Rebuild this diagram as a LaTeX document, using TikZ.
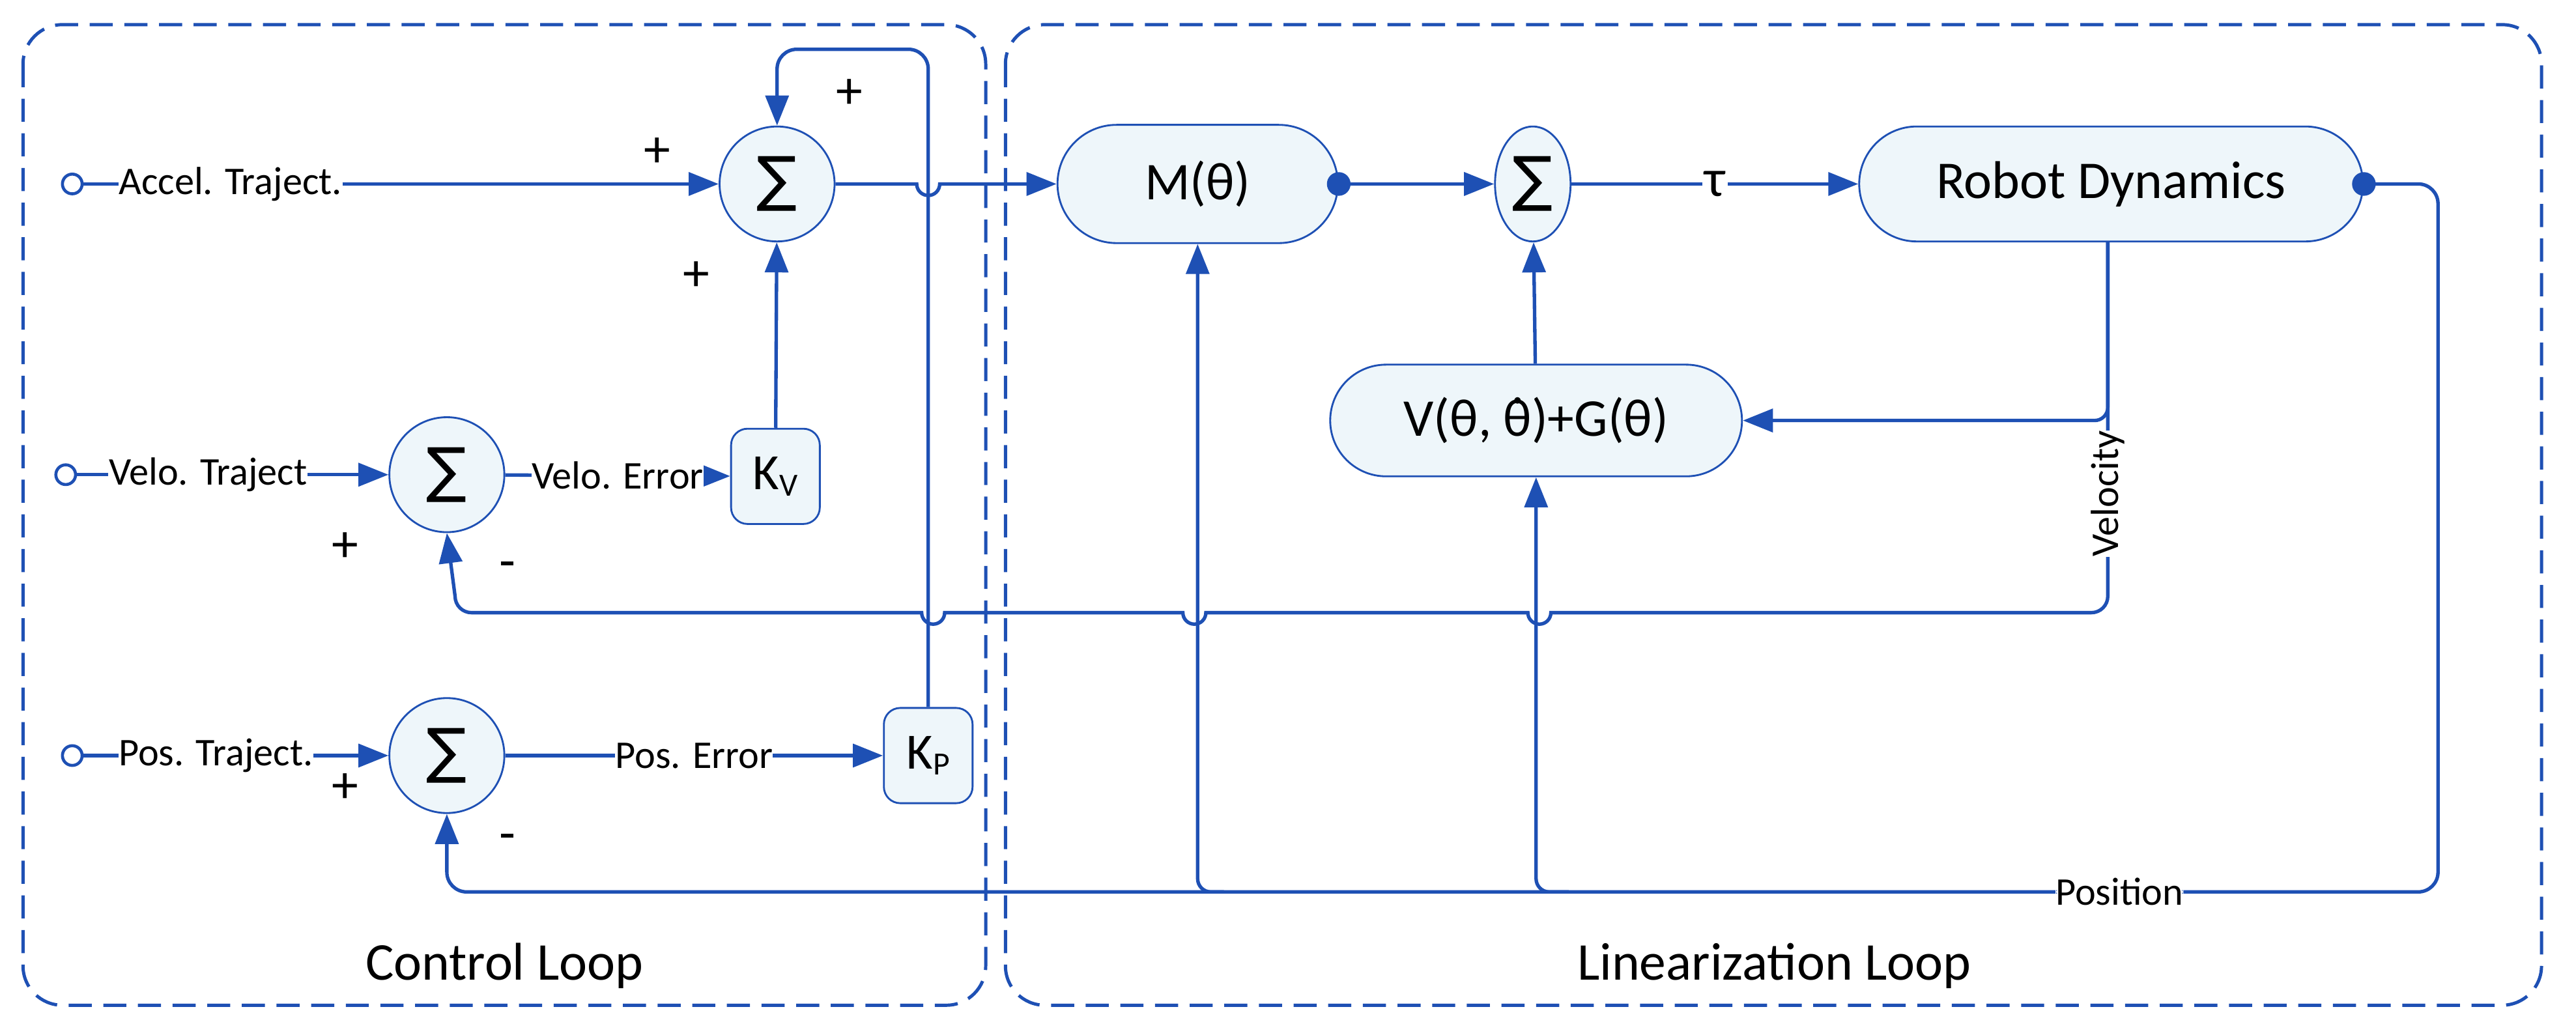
\documentclass[tikz,border=0pt]{standalone}
\usepackage{fontspec}
\setmainfont{Carlito}
\newfontfamily\djv{DejaVu Sans}
\usetikzlibrary{arrows.meta,calc,shapes.geometric,shapes.misc}
\definecolor{lnblue}{RGB}{30,80,180}
\definecolor{boxfill}{RGB}{238,246,250}
\newcommand{\thdot}{{\ooalign{θ\cr\hidewidth\raisebox{0.62em}{.}\hidewidth\cr}}}
\begin{document}
\begin{tikzpicture}[x=0.25mm,y=-0.25mm,
  every node/.style={font=\fontsize{17}{19}\selectfont},
  wire/.style={draw=lnblue,line width=1.5pt},
  arr/.style={wire,-{Triangle[length=13pt,width=10pt]}},
  sumnode/.style={circle,draw=lnblue,line width=0.8pt,fill=boxfill,inner sep=0pt,minimum size=17.5mm,font=\djv\fontsize{26}{28}\selectfont},
  gain/.style={rectangle,rounded corners=2.5mm,draw=lnblue,line width=0.8pt,fill=boxfill,minimum width=13.5mm,minimum height=14.5mm,font=\fontsize{22}{24}\selectfont},
  block/.style={rounded rectangle,draw=lnblue,line width=0.8pt,fill=boxfill,minimum height=18mm,font=\fontsize{23}{25}\selectfont},
  port/.style={circle,draw=lnblue,line width=1.3pt,fill=white,inner sep=0pt,minimum size=3mm},
  sign/.style={font=\fontsize{23}{25}\selectfont},
  loop/.style={draw=lnblue,line width=1.4pt,dash pattern=on 10pt off 5pt,rounded corners=6mm},
  lbl/.style={fill=white,inner sep=0pt}]
\useasboundingbox (0,0) rectangle (1568,630);
% loops
\draw[loop] (14,15) rectangle (600,612);
\draw[loop] (612,15) rectangle (1547,612);
\node[font=\fontsize{23}{25}\selectfont] (cl) at (307,588) {Control Loop};
\node[font=\fontsize{23}{25}\selectfont] (ll) at (1080,588) {Linearization Loop};
% control loop nodes
\node[port] (pa) at (44,112) {};
\node[port] (pv) at (40,289) {};
\node[port] (pp) at (44,460) {};
\node[sumnode] (s1) at (473,112) {∑};
\node[sumnode] (s2) at (272,289) {∑};
\node[sumnode] (s3) at (272,460) {∑};
\node[gain] (kv) at (472,290) {K{\fontsize{14}{14}\selectfont\raisebox{-0.4ex}{V}}};
\node[gain] (kp) at (565,460) {K{\fontsize{14}{14}\selectfont\raisebox{-0.4ex}{P}}};
% linearization nodes
\node[block,minimum width=45mm] (m) at (729,112) {M(θ)};
\node[ellipse,draw=lnblue,line width=0.8pt,fill=boxfill,minimum width=11.5mm,minimum height=17.5mm,inner sep=0pt,font=\djv\fontsize{26}{28}\selectfont] (s4) at (933,112) {∑};
\node[block,minimum width=79mm,minimum height=17.5mm] (rd) at (1285,112) {Robot Dynamics};
\node[block,minimum width=65mm,minimum height=17mm] (vg) at (935,256) {V(θ, \thdot)+G(θ)};
% inputs
\node[lbl,anchor=west] (ta) at (72,112) {Accel. Traject.};
\node[lbl,anchor=west] (tv) at (66,289) {Velo. Traject};
\node[lbl,anchor=west] (tp) at (72,460) {Pos. Traject.};
\draw[wire] (pa) -- (ta);
\draw[wire] (pv) -- (tv);
\draw[wire] (pp) -- (tp);
\draw[arr] (ta.east) -- (s1);
\draw[arr] (tv.east) -- (s2);
\draw[arr] (tp.east) -- (s3);
\draw[arr] (s2) -- node[lbl] {Velo. Error} (kv);
\draw[arr] (s3) -- node[lbl] {Pos. Error} (kp);
\draw[arr] (kv) -- (s1);
\draw[arr,rounded corners=3mm] (kp.north) -- (kp.north |- 0,30) -| (s1.north);
% sum1 to M with hop
\draw[arr] (s1.east) -- (558,112) arc[start angle=180,end angle=0,radius=7] -- (m.west);
% signs
\node[sign] at (400,93) {+};
\node[sign] at (424,168) {+};
\node[sign] at (517,57) {+};
\node[sign] at (210,333) {+};
\node[sign] at (309,347) {-};
\node[sign] at (210,480) {+};
\node[sign] at (309,513) {-};
% forward path
\draw[arr] (m.east) -- (s4);
\fill[lnblue] (m.east) circle (1.8mm);
\draw[arr] (s4) -- node[lbl,inner sep=1pt,font=\fontsize{23}{25}\selectfont] {τ} (rd);
\draw[arr] (vg) -- (s4);
% velocity feedback
\coordinate (vb) at (1283,373);
\draw[arr,rounded corners=2mm] (rd.south -| vb) -- (1283,256) -- (vg.east);
\draw[arr] (rd.south -| vb) -- node[lbl,rotate=90,pos=0.71] {Velocity} (1283,363)
  arc[start angle=0,end angle=90,radius=10] -- (944,373)
  arc[start angle=0,end angle=180,radius=7] -- (734,373)
  arc[start angle=0,end angle=180,radius=7] -- (575,373)
  arc[start angle=0,end angle=180,radius=7] -- (287,373)
  arc[start angle=90,end angle=180,radius=10] -- (s2.south);
% position feedback
\coordinate (pr) at (1484,543);
\draw[arr,rounded corners=3mm] (rd.east) -- (rd.east -| pr) -- (pr) -- node[lbl,pos=0.16] {Position} (s3.south |- pr) -- (s3.south);
\fill[lnblue] (rd.east) circle (1.8mm);
\draw[arr,rounded corners=2mm] (745,543) -| (m.south);
\draw[arr,rounded corners=2mm] (955,543) -| (vg.south);
\end{tikzpicture}
\end{document}
